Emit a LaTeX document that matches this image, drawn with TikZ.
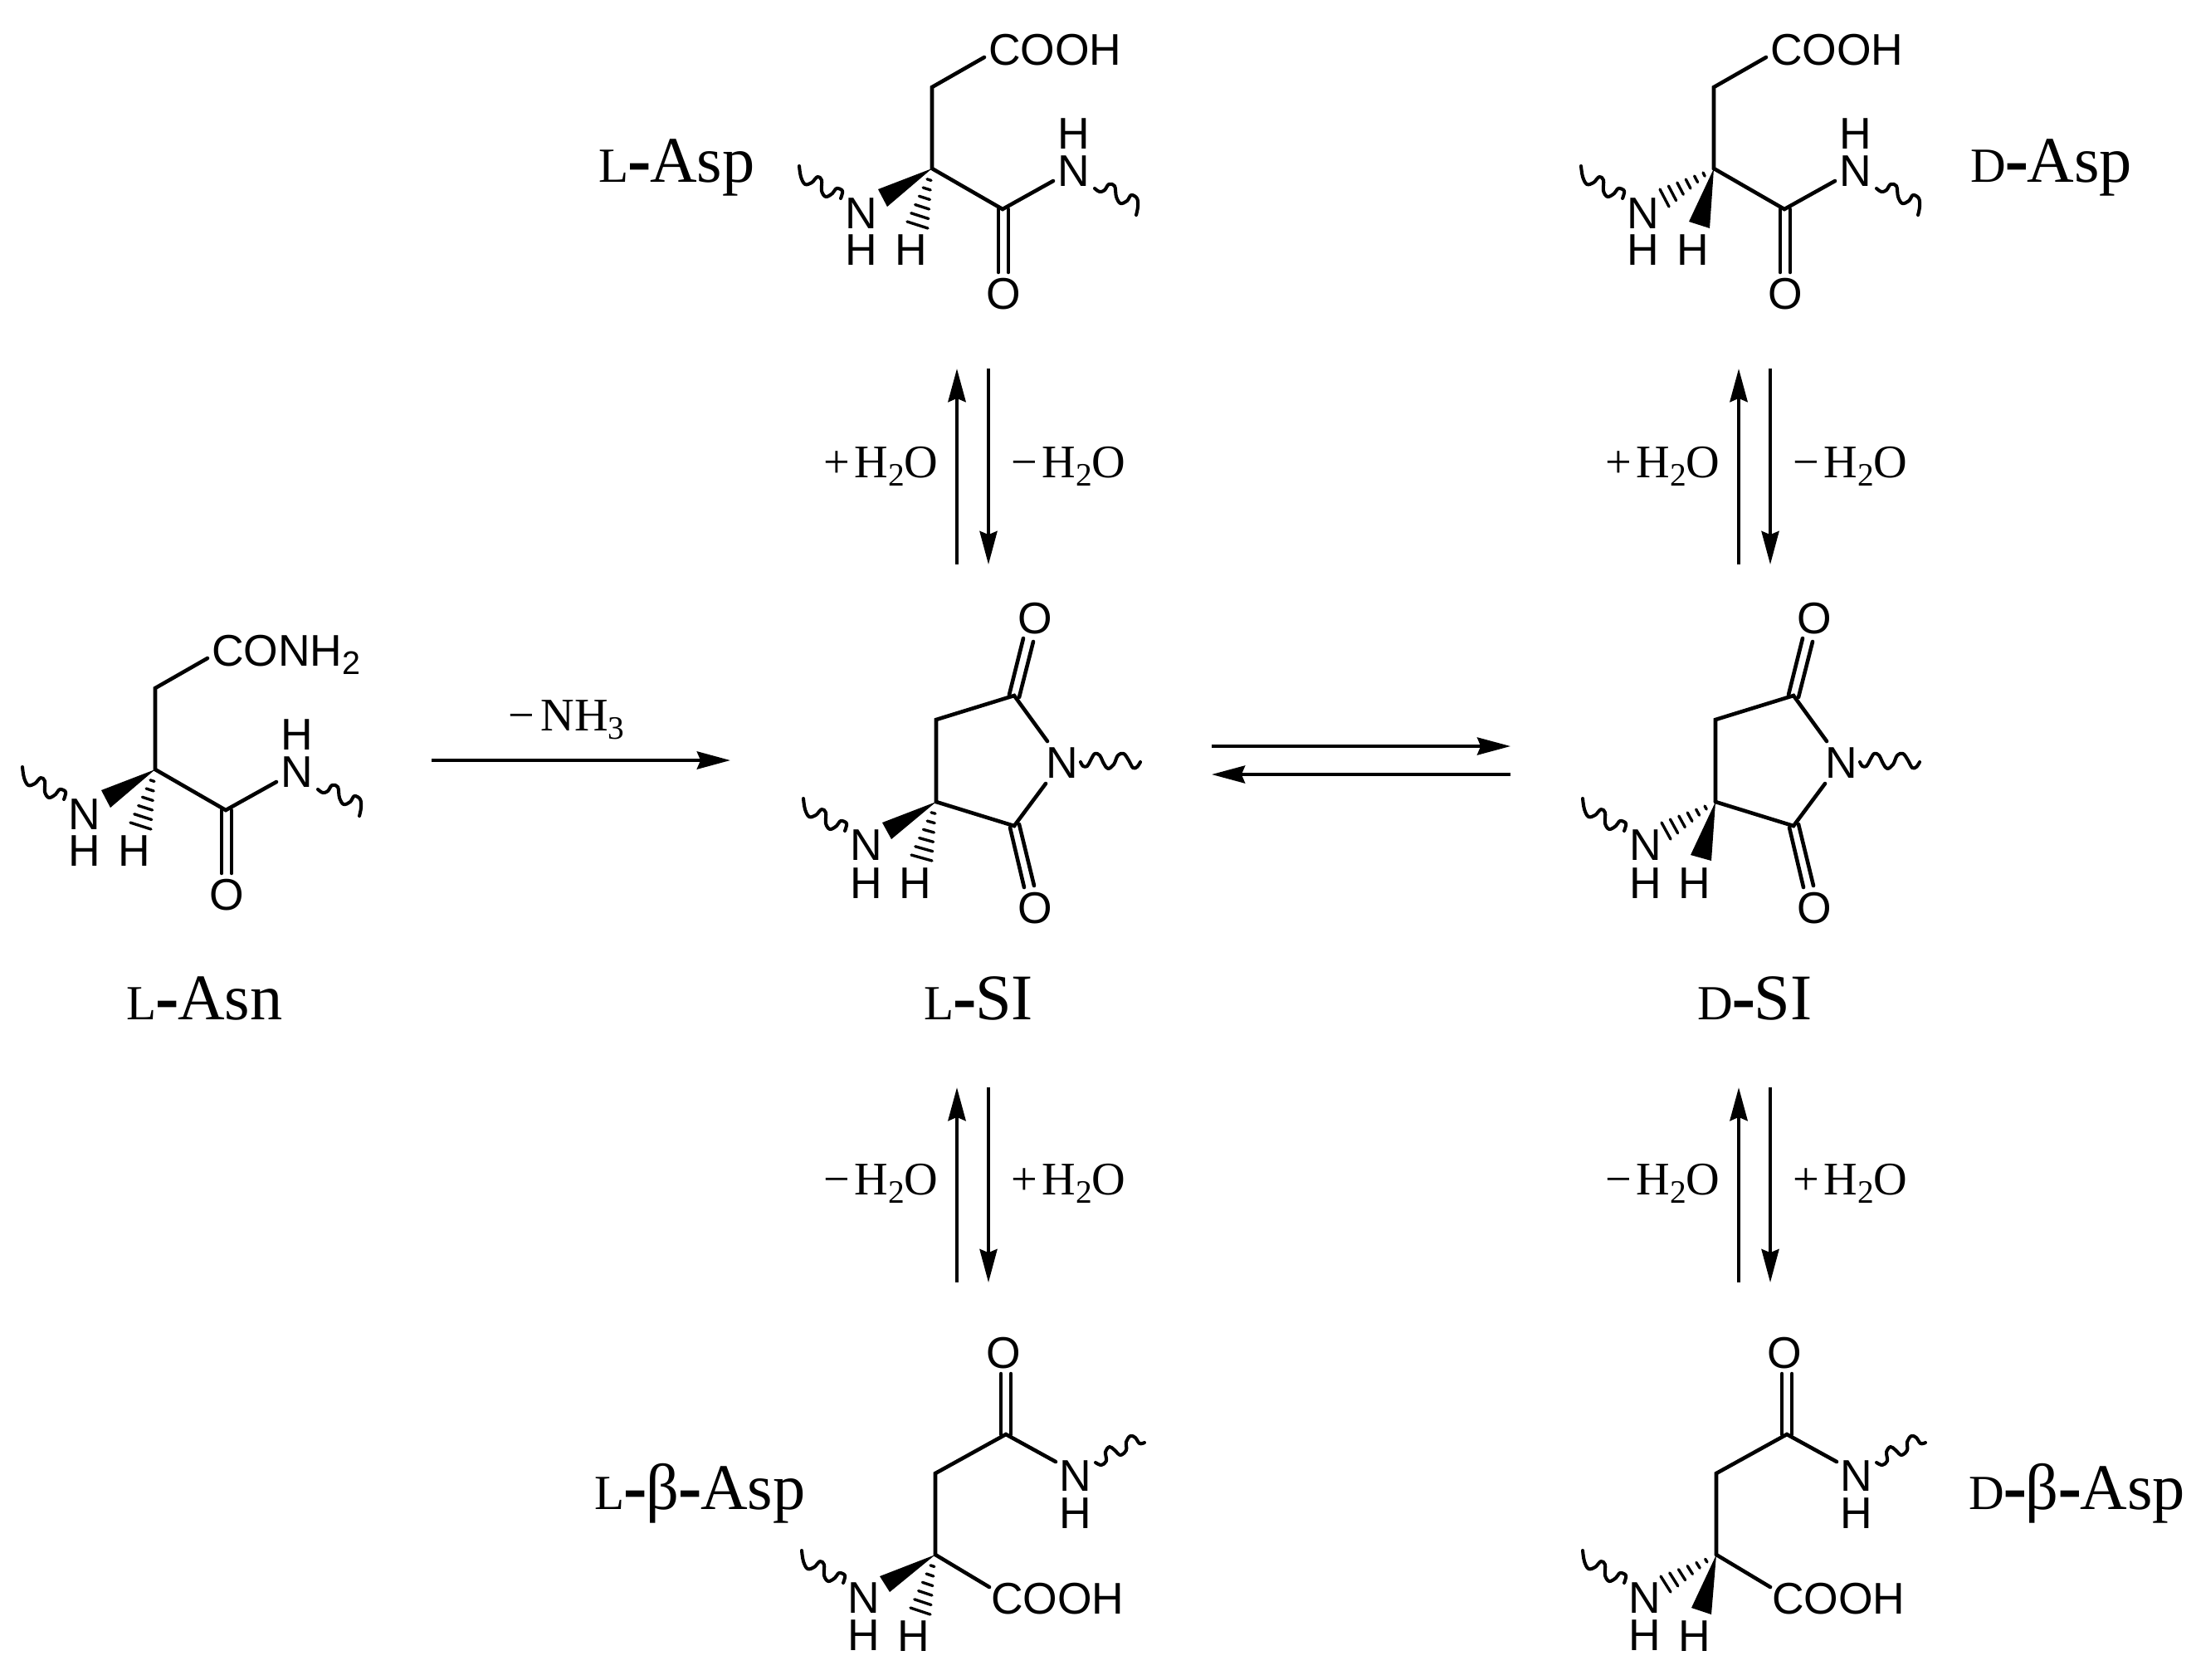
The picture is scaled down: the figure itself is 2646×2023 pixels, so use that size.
\documentclass[tikz,border=0pt]{standalone}
\usepackage{fontspec}
\usetikzlibrary{arrows.meta,calc}
\setmainfont{Liberation Serif}
\newfontfamily\atomfont{Liberation Sans}
\newfontfamily\hyphfont[FakeBold=2.5]{Liberation Serif}
\newcommand{\atomsize}{\atomfont\fontsize{15.2}{15.2}\selectfont}
\newcommand{\lblbig}{\fontsize{22.3}{22.3}\selectfont}
\newcommand{\lblsm}{\fontsize{16.8}{16.8}\selectfont}
\newcommand{\hwsize}{\fontsize{16}{16}\selectfont}
\newcommand{\subdn}[1]{\raisebox{-3.1pt}{\fontsize{11.2}{11.2}\selectfont #1}}
\newcommand{\hyph}{{\hyphfont -}}
\tikzset{
  x=0.01cm,y=-0.01cm,
  bond/.style={line width=1.3pt,line cap=round,line join=miter},
  hashl/.style={line width=.95pt,line cap=round},
  squig/.style={line width=1.15pt,line cap=round,line join=round},
  atom/.style={inner sep=0pt,outer sep=0pt,font=\atomsize},
  atoml/.style={inner sep=0pt,outer sep=0pt,anchor=base west,font=\atomsize},
  lbl/.style={inner sep=0pt,outer sep=0pt,anchor=base west},
  rxn/.style={line width=1.35pt,-{Stealth[length=11.4pt,width=6pt,inset=1.2pt]}},
  rxnthin/.style={line width=1.05pt,-{Stealth[length=11.4pt,width=6pt,inset=1.2pt]}},
  rxnwide/.style={line width=1.25pt,-{Stealth[length=11.4pt,width=6pt,inset=1.2pt]}},
}
\newcommand{\stW}[3]{\fill (#1)--(#2)--(#3)--cycle;}
\newcommand{\stH}[3]{\foreach \t in {.2,.36,.52,.68,.84,1}{\draw[hashl] ($(#1)!\t!(#2)$)--($(#1)!\t!(#3)$);}}
% traced squiggles, local coordinates in pixels from the start
\newcommand{\sqDown}[1]{\draw[squig,shift={(#1)}] plot[smooth,tension=.6] coordinates
 {(0,0)(2,13)(7,22)(15,20)(22,13)(27,17)(27,30)(32,37)(40,33)(45,27)(52,30)(50,39)};}
\newcommand{\sqRight}[1]{\draw[squig,shift={(#1)}] plot[smooth,tension=.6] coordinates
 {(0,0)(6,4)(12,2)(17,-5)(24,-3)(26,10)(31,18)(39,15)(44,8)(51,12)(52,22)(50,32)};}
\newcommand{\sqHoriz}[1]{\draw[squig,shift={(#1)}] plot[smooth,tension=.6] coordinates
 {(0,0)(3,5)(8,5)(12,-2)(17,-10)(23,-8)(28,2)(33,8)(40,3)(45,-8)(52,-10)(58,-2)(63,7)(68,6)(72,0)};}
\newcommand{\sqUp}[1]{\draw[squig,shift={(#1)}] plot[smooth,tension=.6] coordinates
 {(0,0)(7,3)(13,-2)(12,-13)(17,-19)(23,-15)(30,-9)(37,-15)(37,-25)(42,-32)(48,-30)(53,-23)(59,-24)};}
% alpha-amino acid residue: #1 prefix, #2 dx, #3 dy, #4/#5 stereo of N and H, #6 side-chain text
\newcommand{\alphaResidue}[6]{
 \begin{scope}[shift={(#2,#3)}]
  \coordinate (#1ca) at (1123,203);
  \coordinate (#1cb) at (1123,105);
  \coordinate (#1cg) at (1186,69);
  \coordinate (#1cc) at (1208,252);
  \coordinate (#1ne) at (1269,218);
  \coordinate (#1oa) at (1203,252); \coordinate (#1ob) at (1203,328);
  \coordinate (#1oc) at (1215,252); \coordinate (#1od) at (1215,328);
  \coordinate (#1na) at (1058,228); \coordinate (#1nb) at (1069,249);
  \coordinate (#1ha) at (1093,267); \coordinate (#1hb) at (1118,275);
  \node[atoml] (#1side) at (1191,78) {#6};
  \node[atom] (#1n1) at (1038,257) {N};
  \node[atom] (#1h1) at (1038,301) {H};
  \node[atom] (#1h2) at (1098,301) {H};
  \node[atom] (#1n2) at (1294,206) {N};
  \node[atom] (#1h3) at (1294,161) {H};
  \node[atom] (#1o) at (1209,354) {O};
  \draw[bond] (#1cg)--(#1cb)--(#1ca)--(#1cc)--(#1ne);
  \draw[bond] (#1oa)--(#1ob); \draw[bond] (#1oc)--(#1od);
  #4{#1ca}{#1na}{#1nb}
  #5{#1ca}{#1ha}{#1hb}
  \sqDown{963,200}
  \sqRight{1319,227}
 \end{scope}}
% succinimide: #1 prefix, #2 dx, #3/#4 stereo
\newcommand{\succin}[4]{
 \begin{scope}[shift={(#2,0)}]
  \coordinate (#1ca) at (1128,966);
  \coordinate (#1cb) at (1128,867);
  \coordinate (#1cu) at (1222,838);
  \coordinate (#1cl) at (1222,995);
  \coordinate (#1eu) at (1262,893);
  \coordinate (#1el) at (1260,944);
  \coordinate (#1ua) at (1216,837); \coordinate (#1ub) at (1233,769);
  \coordinate (#1uc) at (1228,840); \coordinate (#1ud) at (1245,773);
  \coordinate (#1la) at (1217,997); \coordinate (#1lb) at (1234,1069);
  \coordinate (#1lc) at (1228,993); \coordinate (#1ld) at (1246,1067);
  \coordinate (#1na) at (1063,991); \coordinate (#1nb) at (1074,1011);
  \coordinate (#1ha) at (1098,1030); \coordinate (#1hb) at (1123,1037);
  \node[atom] (#1n2) at (1280,919) {N};
  \node[atom] (#1o1) at (1247,745) {O};
  \node[atom] (#1o2) at (1247,1094) {O};
  \node[atom] (#1n1) at (1044,1018) {N};
  \node[atom] (#1h1) at (1044,1064) {H};
  \node[atom] (#1h2) at (1103,1064) {H};
  \draw[bond] (#1ca)--(#1cb)--(#1cu)--(#1eu);
  \draw[bond] (#1ca)--(#1cl)--(#1el);
  \draw[bond] (#1ua)--(#1ub); \draw[bond] (#1uc)--(#1ud);
  \draw[bond] (#1la)--(#1lb); \draw[bond] (#1lc)--(#1ld);
  #3{#1ca}{#1na}{#1nb}
  #4{#1ca}{#1ha}{#1hb}
  \sqDown{968,962}
  \sqHoriz{1302,918}
 \end{scope}}
% beta residue
\newcommand{\betaResidue}[4]{
 \begin{scope}[shift={(#2,0)}]
  \coordinate (#1ca) at (1127,1873);
  \coordinate (#1cb) at (1127,1775);
  \coordinate (#1cc) at (1212,1728);
  \coordinate (#1ne) at (1272,1761);
  \coordinate (#1cg) at (1192,1912);
  \coordinate (#1oa) at (1206,1728); \coordinate (#1ob) at (1206,1655);
  \coordinate (#1oc) at (1218,1728); \coordinate (#1od) at (1218,1655);
  \coordinate (#1na) at (1060,1899); \coordinate (#1nb) at (1072,1918);
  \coordinate (#1ha) at (1097,1937); \coordinate (#1hb) at (1121,1945);
  \node[atom] (#1o) at (1209,1630) {O};
  \node[atom] (#1n2) at (1296,1778) {N};
  \node[atom] (#1h3) at (1296,1823) {H};
  \node[atoml] (#1side) at (1194,1944) {COOH};
  \node[atom] (#1n1) at (1041,1925) {N};
  \node[atom] (#1h1) at (1041,1970) {H};
  \node[atom] (#1h2) at (1101,1971) {H};
  \draw[bond] (#1ca)--(#1cb)--(#1cc)--(#1ne);
  \draw[bond] (#1ca)--(#1cg);
  \draw[bond] (#1oa)--(#1ob); \draw[bond] (#1oc)--(#1od);
  #3{#1ca}{#1na}{#1nb}
  #4{#1ca}{#1ha}{#1hb}
  \sqDown{966,1868}
  \sqUp{1320,1762}
 \end{scope}}
\newcommand{\hwater}[1]{{\hwsize #1\kern1.6pt H\subdn{2}O}}
% equilibrium pair: #1 prefix, #2 x of up arrow, #3 x of down arrow, #4 top y, #5 bottom y, #6 baseline, #7, #8 labels
\newcommand{\eqPair}[8]{
  \coordinate (#1us) at (#2,#5); \coordinate (#1ue) at (#2,#4);
  \coordinate (#1ds) at (#3,#4); \coordinate (#1de) at (#3,#5);
  \draw[rxn] (#1us)--(#1ue);
  \draw[rxnthin] (#1ds)--(#1de);
  \node[lbl] (#1lt) at (#2-161,#6) {\hwater{#7}};
  \node[lbl] (#1rt) at (#3+27,#6) {\hwater{#8}};
}
\begin{document}
\begin{tikzpicture}
\useasboundingbox (0,0) rectangle (2646,2023);
\alphaResidue{la}{0}{0}{\stW}{\stH}{COOH}
\alphaResidue{da}{942}{0}{\stH}{\stW}{COOH}
\alphaResidue{an}{-936}{724}{\stW}{\stH}{CONH\subdn{2}}
\succin{ls}{0}{\stW}{\stH}
\succin{ds}{939}{\stH}{\stW}
\betaResidue{lb}{0}{\stW}{\stH}
\betaResidue{db}{941}{\stH}{\stW}
\eqPair{p1}{1153}{1191}{444}{680}{575}{+}{−}
\eqPair{p2}{2095}{2133}{444}{680}{575}{+}{−}
\eqPair{p3}{1153}{1191}{1310}{1545}{1439}{−}{+}
\eqPair{p4}{2095}{2133}{1310}{1545}{1439}{−}{+}
\coordinate (ns) at (520,916); \coordinate (ne) at (880,916);
\draw[rxnwide] (ns)--(ne);
\node[lbl] (nh3) at (612,880) {\hwsize −\kern2.2pt NH\subdn{3}};
\coordinate (ea) at (1460,899); \coordinate (eb) at (1820,899);
\coordinate (ec) at (1820,933); \coordinate (ed) at (1460,933);
\draw[rxnthin] (ea)--(eb);
\draw[rxnthin] (ec)--(ed);
\node[lbl] (tlasp) at (721,219) {\lblsm L\lblbig\hyph Asp};
\node[lbl] (tdasp) at (2374,219) {\lblsm D\lblbig\hyph Asp};
\node[lbl] (tlasn) at (152,1228) {\lblsm L\lblbig\hyph Asn};
\node[lbl] (tlsi) at (1113,1228) {\lblsm L\lblbig\hyph SI};
\node[lbl] (tdsi) at (2045,1228) {\lblsm D\lblbig\hyph SI};
\node[lbl] (tlb) at (716,1818) {\lblsm L\lblbig\hyph β\hyph Asp};
\node[lbl] (tdb) at (2372,1818) {\lblsm D\lblbig\hyph β\hyph Asp};
\end{tikzpicture}
\end{document}
